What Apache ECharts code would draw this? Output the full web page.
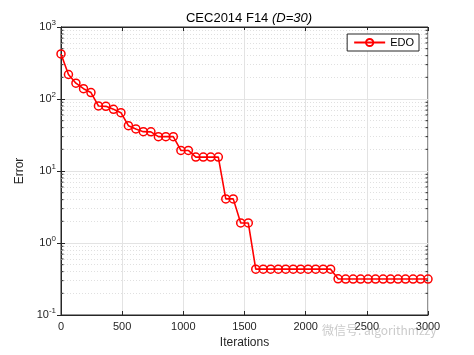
<!DOCTYPE html>
<html><head><meta charset="utf-8">
<script src="https://cdn.jsdelivr.net/npm/echarts/dist/echarts.min.js"></script>
<style>html,body{margin:0;padding:0;background:#fff}#c{width:474px;height:355px}</style>
</head><body><div id="c"></div>
<script>
const iterations = [0,61,122,184,245,306,367,429,490,551,612,673,735,796,857,918,980,1041,1102,1163,1224,1286,1347,1408,1469,1531,1592,1653,1714,1776,1837,1898,1959,2020,2082,2143,2204,2265,2327,2388,2449,2510,2571,2633,2694,2755,2816,2878,2939,3000];
const edoError = [422,219,166,139,123,80,79,72,64.6,42.6,38.4,35.2,35.0,30,30,30,19.3,19.3,15.6,15.6,15.6,15.6,4.1,4.1,1.9,1.9,0.433,0.433,0.433,0.433,0.433,0.433,0.433,0.433,0.433,0.433,0.433,0.318,0.316,0.316,0.316,0.316,0.316,0.316,0.316,0.316,0.316,0.316,0.316,0.316];
const xTickValues = [0,500,1000,1500,2000,2500,3000];
const yMinorValues = [0.2,0.3,0.4,0.5,0.6,0.7,0.8,0.9,2,3,4,5,6,7,8,9,20,30,40,50,60,70,80,90,200,300,400,500,600,700,800,900];
const titleMain = 'CEC2014 F14 ';
const titleItalic = '(D=30)';
const seriesName = 'EDO';

const FONT = '"Liberation Sans", Arial, Helvetica, sans-serif';
const AX = '#262626';
const chart = echarts.init(document.getElementById('c'));
const pts = iterations.map((x,i)=>[x, edoError[i]]);
function yLab(v){ const e = Math.round(Math.log10(v)); return '{b|10}{s|' + e + '}'; }
const yRich = { b:{fontSize:11, fontFamily:FONT, color:AX}, s:{fontSize:8, fontFamily:FONT, color:AX, padding:[0,0,8,0]} };

chart.setOption({
  animation:false,
  backgroundColor:'#fff',
  title:{ text:'{m|'+titleMain+'}{i|'+titleItalic+'}', left:244, textAlign:'center', top:7,
    textStyle:{ fontWeight:'normal', rich:{ m:{fontSize:13, fontWeight:'normal', fontFamily:FONT, color:'#000'}, i:{fontSize:13, fontWeight:'normal', fontFamily:FONT, fontStyle:'italic', color:'#000'} } } },
  grid:{ left:61, right:46, top:27, bottom:40, show:true, borderColor:AX, borderWidth:1, backgroundColor:'#fff' },
  legend:{ right:55, top:34, z:20, data:[seriesName], itemWidth:31, itemHeight:9, itemGap:4, padding:[3,5,3,6],
    borderColor:AX, borderWidth:1, borderRadius:0, backgroundColor:'#fff',
    textStyle:{fontSize:11, fontFamily:FONT, color:'#000'} },
  xAxis:[{
    type:'value', min:0, max:3000, interval:500,
    name:'Iterations', nameLocation:'middle', nameGap:22,
    nameTextStyle:{fontSize:12, fontFamily:FONT, color:AX},
    axisLine:{show:true, onZero:false, lineStyle:{color:AX}},
    axisTick:{show:true, inside:true, length:4, lineStyle:{color:AX}},
    axisLabel:{fontSize:11, fontFamily:FONT, color:AX, margin:6, formatter:function(v){return String(v);}},
    splitLine:{show:true, lineStyle:{color:'#e3e3e3', width:1}}
  },{
    type:'value', min:0, max:3000, interval:500, position:'top',
    axisLine:{show:true, lineStyle:{color:AX}},
    axisTick:{show:true, inside:true, length:4, lineStyle:{color:AX}},
    axisLabel:{show:false}, splitLine:{show:false}
  }],
  yAxis:[{
    type:'log', logBase:10, min:0.1, max:1000,
    name:'Error', nameLocation:'middle', nameGap:33,
    nameTextStyle:{fontSize:12, fontFamily:FONT, color:AX},
    axisLine:{show:true, lineStyle:{color:AX}},
    axisTick:{show:true, inside:true, length:4, lineStyle:{color:AX}},
    axisLabel:{formatter:yLab, rich:yRich, margin:5},
    splitLine:{show:true, lineStyle:{color:'#e3e3e3', width:1}}
  },{
    type:'log', logBase:10, min:0.1, max:1000, position:'right',
    axisLine:{show:true, lineStyle:{color:AX}},
    axisTick:{show:true, inside:true, length:4, lineStyle:{color:AX}},
    axisLabel:{show:false}, splitLine:{show:false}
  }],
  graphic:[{ type:'text', left:322, top:324, silent:true, z:100,
    style:{ text:'微信号: algorithmzzy', fontSize:12, fontFamily:'"Noto Sans CJK SC", sans-serif', fill:'rgba(150,150,150,0.5)' } }],
  series:[
    { type:'line', data:[], silent:true, xAxisIndex:0, yAxisIndex:0, z:1,
      markLine:{ silent:true, symbol:['none','none'], label:{show:false}, animation:false, z:1,
        lineStyle:{type:[1,2], color:'#e0e0e0', width:1},
        data: yMinorValues.map(v=>({yAxis:v})) } },
    { type:'custom', xAxisIndex:0, yAxisIndex:0, silent:true, z:3,
      data: yMinorValues.map(v=>[0,v]),
      renderItem:function(params, api){
        const a = api.coord([0, api.value(1)]);
        const b = api.coord([3000, api.value(1)]);
        return {type:'group', children:[
          {type:'line', shape:{x1:a[0], y1:a[1], x2:a[0]+2.5, y2:a[1]}, style:{stroke:AX, lineWidth:1}},
          {type:'line', shape:{x1:b[0]-2.5, y1:b[1], x2:b[0], y2:b[1]}, style:{stroke:AX, lineWidth:1}}
        ]};
      } },
    { name:seriesName, type:'line', data:pts, xAxisIndex:0, yAxisIndex:0, z:5,
      symbol:'circle', symbolSize:8, showAllSymbol:true,
      lineStyle:{color:'#ff0000', width:1.6},
      itemStyle:{color:'rgba(255,255,255,0)', borderColor:'#ff0000', borderWidth:1.5} }
  ]
});
</script>
</body></html>
